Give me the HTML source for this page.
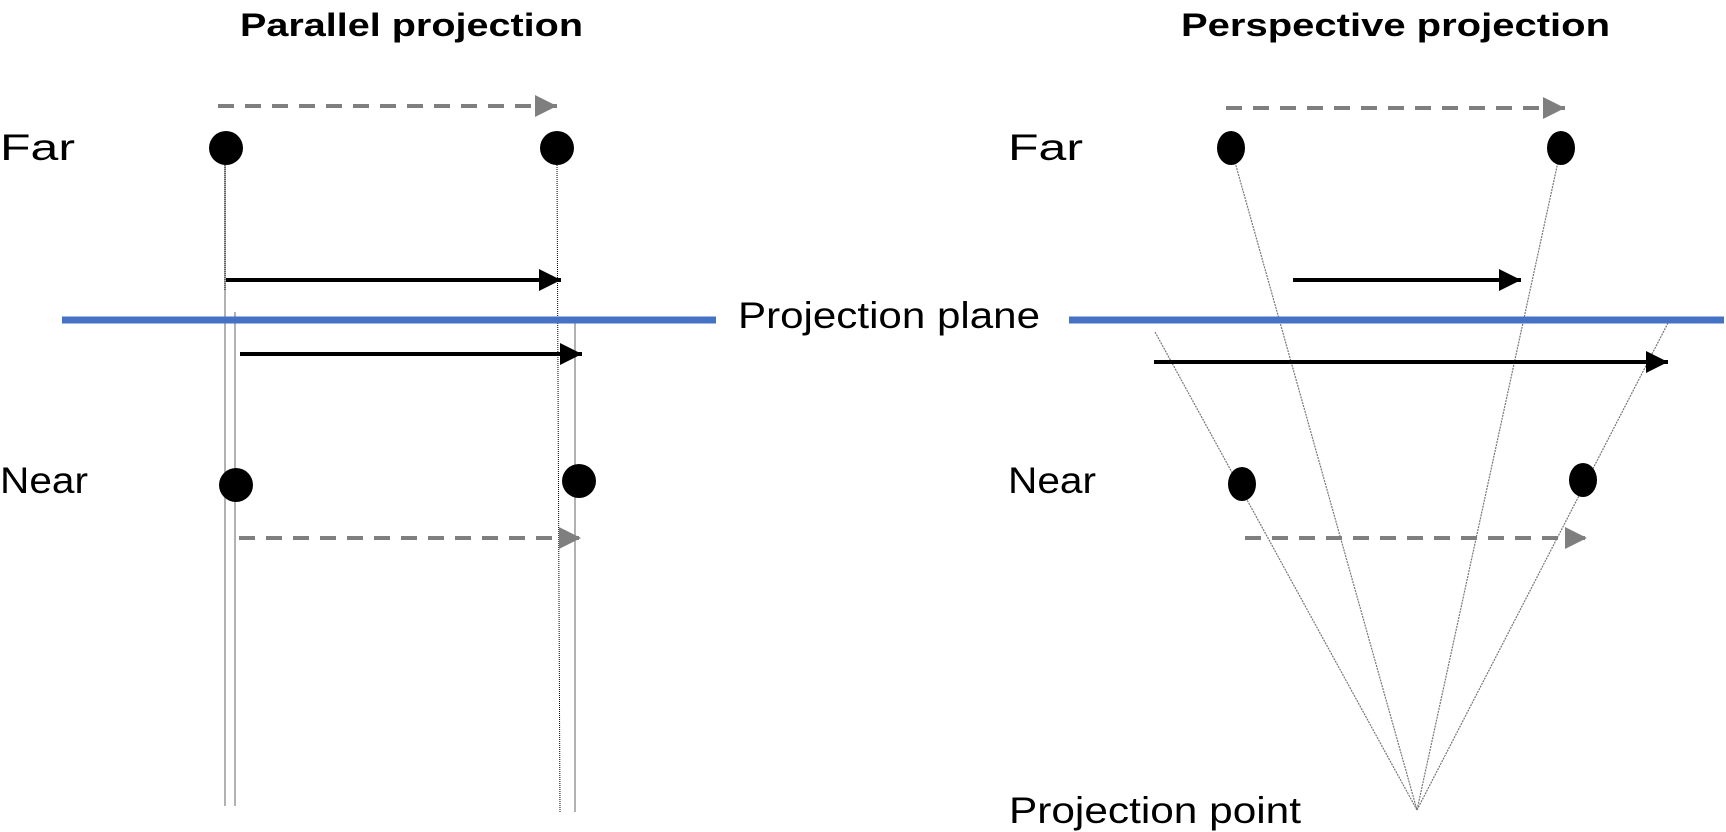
<!DOCTYPE html>
<html><head><meta charset="utf-8"><style>
html,body{margin:0;padding:0;background:#fff;}
svg{display:block;}
text{font-family:"Liberation Sans",sans-serif;fill:#000;}
</style></head><body>
<svg width="1726" height="832" viewBox="0 0 1726 832" xmlns="http://www.w3.org/2000/svg">
<defs>
<marker id="ab" markerWidth="22" markerHeight="22" refX="8" refY="4" orient="auto" markerUnits="userSpaceOnUse" viewBox="0 0 8 8"><path d="M0,0 L8,4 L0,8 z" fill="#000"/></marker>
<marker id="ag" markerWidth="22" markerHeight="22" refX="8" refY="4" orient="auto" markerUnits="userSpaceOnUse" viewBox="0 0 8 8"><path d="M0,0 L8,4 L0,8 z" fill="#7f7f7f"/></marker>
</defs>

<text x="240" y="36" font-size="32" font-weight="bold" textLength="343" lengthAdjust="spacingAndGlyphs">Parallel projection</text>
<text x="1181" y="36" font-size="32" font-weight="bold" textLength="429" lengthAdjust="spacingAndGlyphs">Perspective projection</text>

<text x="0" y="160" font-size="37" textLength="75" lengthAdjust="spacingAndGlyphs">Far</text>
<text x="0" y="493" font-size="37" textLength="88" lengthAdjust="spacingAndGlyphs">Near</text>
<text x="1008" y="160" font-size="37" textLength="75" lengthAdjust="spacingAndGlyphs">Far</text>
<text x="1008" y="493" font-size="37" textLength="88" lengthAdjust="spacingAndGlyphs">Near</text>
<text x="738" y="328" font-size="37" textLength="302" lengthAdjust="spacingAndGlyphs">Projection plane</text>
<text x="1009" y="823" font-size="37" textLength="292" lengthAdjust="spacingAndGlyphs">Projection point</text>

<line x1="225" y1="165" x2="225" y2="806" stroke="#999" stroke-width="1.5"/>
<line x1="225" y1="165" x2="225" y2="290" stroke="#000" stroke-width="1" stroke-dasharray="1,1"/>
<line x1="235" y1="312" x2="235" y2="806" stroke="#999" stroke-width="1.5"/>
<line x1="557" y1="165" x2="560" y2="812" stroke="#000" stroke-width="1" stroke-dasharray="1,1"/>
<line x1="575" y1="323" x2="575" y2="812" stroke="#999" stroke-width="1.5"/>

<line x1="218" y1="106" x2="557" y2="106" stroke="#7f7f7f" stroke-width="4" stroke-dasharray="16,11" marker-end="url(#ag)"/>
<line x1="226" y1="280" x2="561" y2="280" stroke="#000" stroke-width="4" marker-end="url(#ab)"/>
<line x1="240" y1="354" x2="582" y2="354" stroke="#000" stroke-width="4" marker-end="url(#ab)"/>
<line x1="239" y1="538" x2="581" y2="538" stroke="#7f7f7f" stroke-width="4" stroke-dasharray="16,11" marker-end="url(#ag)"/>

<line x1="62" y1="320" x2="716" y2="320" stroke="#4472c4" stroke-width="7"/>

<ellipse cx="226" cy="148" rx="17" ry="17"/>
<ellipse cx="557" cy="148" rx="17" ry="17"/>
<ellipse cx="236" cy="485" rx="17" ry="17"/>
<ellipse cx="579" cy="481" rx="17" ry="17"/>

<line x1="1231" y1="148" x2="1417" y2="810" stroke="#777" stroke-width="1.2" stroke-dasharray="2,1"/>
<line x1="1561" y1="148" x2="1417" y2="810" stroke="#777" stroke-width="1.2" stroke-dasharray="2,1"/>
<line x1="1155" y1="332" x2="1417" y2="810" stroke="#777" stroke-width="1.2" stroke-dasharray="2,1"/>
<line x1="1668" y1="323" x2="1417" y2="810" stroke="#777" stroke-width="1.2" stroke-dasharray="2,1"/>

<line x1="1226" y1="108" x2="1565" y2="108" stroke="#7f7f7f" stroke-width="4" stroke-dasharray="16,11" marker-end="url(#ag)"/>
<line x1="1293" y1="280" x2="1521" y2="280" stroke="#000" stroke-width="4" marker-end="url(#ab)"/>
<line x1="1154" y1="362" x2="1668" y2="362" stroke="#000" stroke-width="4" marker-end="url(#ab)"/>
<line x1="1245" y1="538" x2="1587" y2="538" stroke="#7f7f7f" stroke-width="4" stroke-dasharray="16,11" marker-end="url(#ag)"/>

<line x1="1069" y1="320" x2="1724" y2="320" stroke="#4472c4" stroke-width="7"/>

<ellipse cx="1231" cy="148" rx="14" ry="17"/>
<ellipse cx="1561" cy="148" rx="14" ry="17"/>
<ellipse cx="1242" cy="484" rx="14" ry="17"/>
<ellipse cx="1583" cy="480" rx="14" ry="17"/>
</svg>
</body></html>
